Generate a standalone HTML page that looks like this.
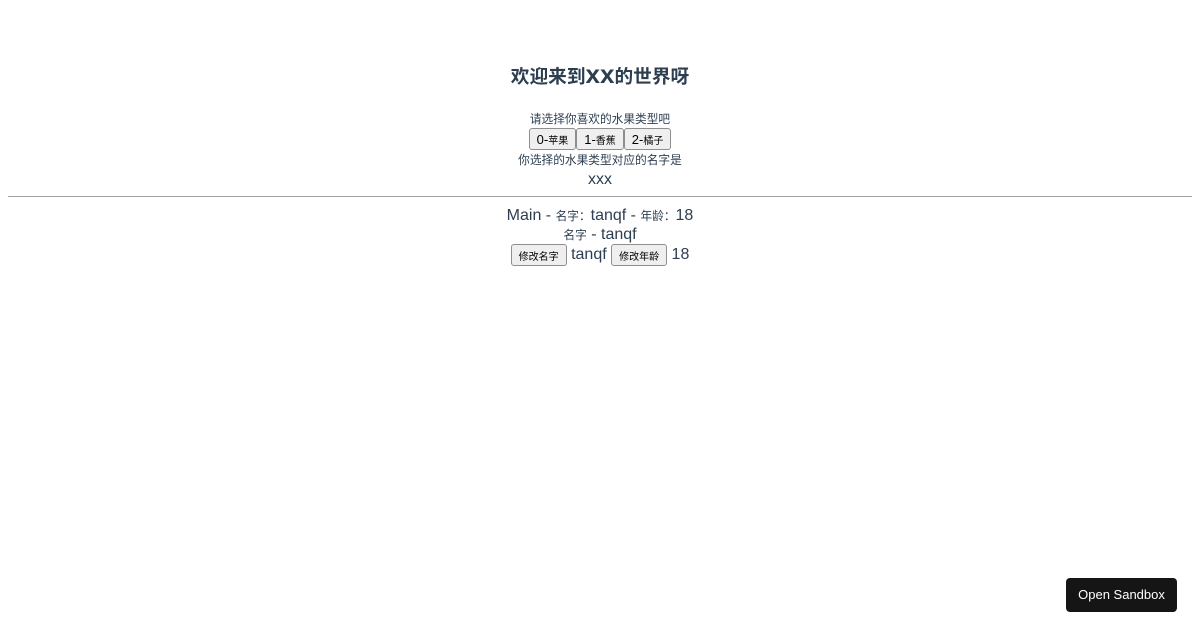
<!DOCTYPE html>
<html><head><meta charset="utf-8"><style>
body{margin:0;width:1200px;height:630px;background:#fff;font-family:"Liberation Sans","Noto Sans CJK SC",sans-serif;color:#2c3e50;position:relative;overflow:hidden}
.c{position:absolute;left:0;width:1200px;text-align:center;white-space:nowrap}
.z{font-size:11.7px}
h1{margin:0;font-size:26px;font-weight:bold}
h1 .z{font-size:18.7px}
.x{font-family:"Liberation Sans",sans-serif}
.l{font-size:16px;line-height:19px}
button{font-family:"Liberation Sans","Noto Sans CJK SC",sans-serif;font-size:13px;padding:1px 7px;border:1px solid #8f8f8f;border-radius:3px;background:#efefef;color:#000;height:22px;margin:0;vertical-align:middle}
button .z{font-size:10px}
hr{position:absolute;left:8px;top:196px;width:1184px;margin:0;border:0;border-top:1px solid #a0a0a0}
.sb{position:absolute;left:1066px;top:578px;width:111px;height:34px;background:#151515;color:#fff;border-radius:4px;font-size:13px;line-height:34px;text-align:center}
</style></head><body>
<div class="c" style="top:59px"><h1><span class="z">欢迎来到</span><span class="x">xx</span><span class="z">的世界呀</span></h1></div>
<div class="c l" style="top:109px"><span class="z">请选择你喜欢的水果类型吧</span></div>
<div class="c l" style="top:128px"><button>0-<span class="z">苹果</span></button><button>1-<span class="z">香蕉</span></button><button>2-<span class="z">橘子</span></button></div>
<div class="c l" style="top:150px"><span class="z">你选择的水果类型对应的名字是</span></div>
<div class="c l" style="top:170px">xxx</div>
<hr>
<div class="c l" style="top:206px">Main - <span class="z">名字：</span>tanqf - <span class="z">年龄：</span>18</div>
<div class="c l" style="top:225px"><span class="z">名字</span> - tanqf</div>
<div class="c l" style="top:244px"><button><span class="z">修改名字</span></button> tanqf <button><span class="z">修改年龄</span></button> 18</div>
<div class="sb">Open Sandbox</div>
</body></html>
